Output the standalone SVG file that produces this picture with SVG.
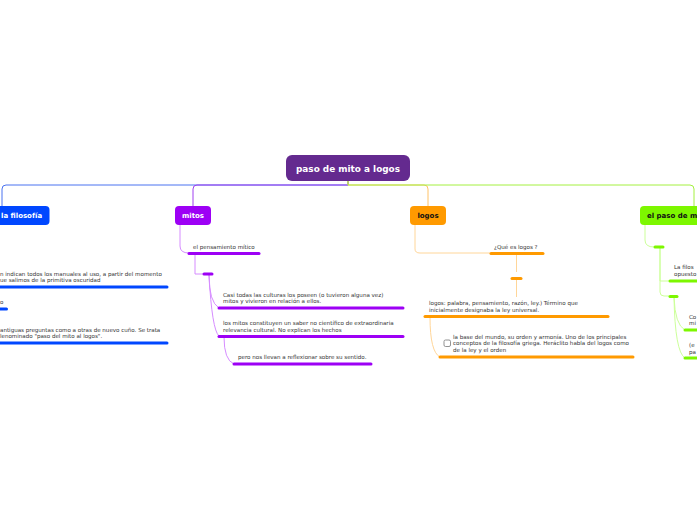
<svg xmlns="http://www.w3.org/2000/svg" width="697" height="520" viewBox="0 0 697 520">
<style>
text{font-family:"DejaVu Sans",sans-serif}
.t{font-size:5.55px;fill:#333}
.c{fill:none;stroke-width:1}
.bl{stroke:#80a6ff}.pu{stroke:#d68cff}.or{stroke:#ffd699}.gr{stroke:#ccff99}
.u{stroke-width:3;stroke-linecap:round;fill:none}
.ub{stroke:#0047ff}.up{stroke:#9d00f5}.uo{stroke:#ff9a00}.ug{stroke:#7df700}
</style>
<g id="connectors">
<path d="M348 181V185H6Q2 185 2 189V206" fill="none" stroke="#4a72f0" stroke-width="1"/>
<path d="M348 181V185H197Q193 185 193 189V206" fill="none" stroke="#a040f0" stroke-width="1"/>
<path d="M348 181V185H424Q428 185 428 189V206" fill="none" stroke="#ffc266" stroke-width="1"/>
<path d="M348 181V185H690Q694 185 694 189V206" fill="none" stroke="#a4f040" stroke-width="1"/>
<path class="c pu" d="M180 225V246Q180 253 189 253"/>
<path class="c pu" d="M195 253V274H204"/>
<path class="c pu" d="M209 275Q209 302 219 308"/>
<path class="c pu" d="M209 275Q212 330 219 336"/>
<path class="c pu" d="M224 337Q224 360 234 364"/>
<path class="c or" d="M415 225V249Q415 253 420 253H490"/>
<path class="c or" d="M516.500 255V272"/>
<path class="c or" d="M516.500 280V297"/>
<path class="c or" d="M430 317Q430 352 440 357"/>
<path class="c gr" d="M645 225V240Q645 247 654 247"/>
<path class="c gr" d="M660 248V281H669"/>
<path class="c gr" d="M660 248V292Q660 296 664 296H669"/>
<path class="c gr" d="M674 297Q675 325 685 330"/>
<path class="c gr" d="M674 297Q675 352 685 358"/>
</g>
<g id="root"><rect x="286" y="155" width="124" height="26" rx="6" fill="#642a8f"/><text x="348" y="172" text-anchor="middle" font-size="8.900" font-weight="bold" fill="#fff">paso de mito a logos</text></g>
<g id="filosofia"><rect x="-20" y="206" width="69.500" height="19" rx="4" fill="#0047ff"/><text x="1" y="218" font-size="7px" font-weight="bold" fill="#fff">la filosofía</text></g>
<g id="f1"><text class="t" x="0" y="275.500">n indican todos los manuales al uso, a partir del momento</text><text class="t" x="0" y="282">ue salimos de la primitiva oscuridad</text><path class="u ub" d="M-5 287H167"/></g>
<g id="f2"><text class="t" x="0" y="304">o</text><path class="u ub" d="M-5 309H6.500"/></g>
<g id="f3"><text class="t" x="0" y="331.500">antiguas preguntas como a otras de nuevo cuño. Se trata</text><text class="t" x="0" y="338">lenominado "paso del mito al logos".</text><path class="u ub" d="M-5 343H167"/></g>
<g id="mitos"><rect x="175" y="206" width="36" height="19" rx="4" fill="#9d00f5"/><text x="193" y="218" text-anchor="middle" font-size="7px" font-weight="bold" fill="#fff">mitos</text></g>
<g id="m1"><text class="t" x="193" y="249">el pensamiento mítico</text><path class="u up" d="M189 253.500H259"/></g>
<g id="m2"><path class="u up" d="M204 274H212"/></g>
<g id="m3"><text class="t" x="223" y="297">Casi todas las culturas los poseen (o tuvieron alguna vez)</text><text class="t" x="223" y="303">mitos y vivieron en relación a ellos.</text><path class="u up" d="M219 308H403"/></g>
<g id="m4"><text class="t" x="223" y="325">los mitos constituyen un saber no científico de extraordinaria</text><text class="t" x="223" y="332">relevancia cultural. No explican los hechos</text><path class="u up" d="M219 336.500H403"/></g>
<g id="m5"><text class="t" x="238" y="359">pero nos llevan a reflexionar sobre su sentido.</text><path class="u up" d="M234 364H371"/></g>
<g id="logos"><rect x="410" y="206" width="36" height="19" rx="4" fill="#ff9a00"/><text x="428" y="218" text-anchor="middle" font-size="7px" font-weight="bold" fill="#111">logos</text></g>
<g id="l1"><text class="t" x="494" y="249">¿Qué es logos ?</text><path class="u uo" d="M491 253.500H543"/></g>
<g id="l2"><path class="u uo" d="M512 278.500H521"/></g>
<g id="l3"><text class="t" x="429" y="305">logos: palabra, pensamiento, razón, ley.) Término que</text><text class="t" x="429" y="312">inicialmente designaba la ley universal.</text><path class="u uo" d="M425 316.500H608"/></g>
<g id="l4"><rect x="444" y="340" width="6.500" height="6.500" rx="1.500" fill="#fff" stroke="#777" stroke-width=".8"/><text class="t" x="453" y="339">la base del mundo, su orden y armonía. Uno de los principales</text><text class="t" x="453" y="345">conceptos de la filosofía griega. Heráclito habla del logos como</text><text class="t" x="453" y="352">de la ley y el orden</text><path class="u uo" d="M440 357H633"/></g>
<g id="paso"><rect x="640" y="206" width="80" height="19" rx="4" fill="#7df700"/><text x="647" y="218" font-size="7px" font-weight="bold" fill="#111">el paso de m</text></g>
<g id="p1"><path class="u ug" d="M655 247H663"/></g>
<g id="p2"><text class="t" x="674" y="269">La filos</text><text class="t" x="674" y="276">opuesto</text><path class="u ug" d="M670 281H700"/></g>
<g id="p3"><path class="u ug" d="M670 296.500H677"/></g>
<g id="p4"><text class="t" x="689" y="319">Co</text><text class="t" x="689" y="325">mi</text><path class="u ug" d="M685 330H700"/></g>
<g id="p5"><text class="t" x="689" y="347">(e</text><text class="t" x="689" y="354">pa</text><path class="u ug" d="M685 358H700"/></g>
</svg>
